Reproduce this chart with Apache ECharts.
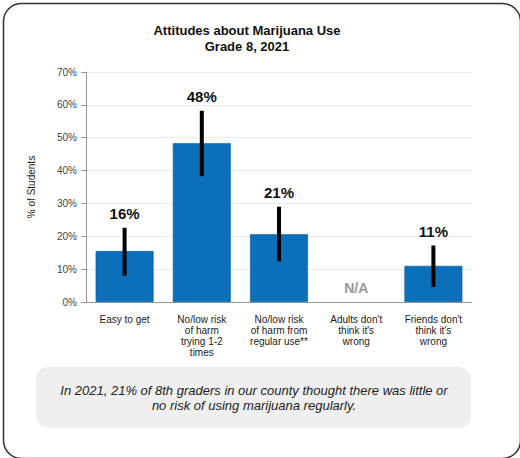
<!DOCTYPE html>
<html>
<head>
<meta charset="utf-8">
<script src="https://cdn.jsdelivr.net/npm/echarts@6/dist/echarts.min.js"></script>
<style>html,body{margin:0;padding:0;background:#fff;}#c{width:520px;height:458px;}</style>
</head>
<body>
<div id="c"></div>
<script>
const categories = ['Easy to get', 'No/low risk\nof harm\ntrying 1-2\ntimes', 'No/low risk\nof harm from\nregular use**', "Adults don't\nthink it's\nwrong", "Friends don't\nthink it's\nwrong"];
const values = [15.5, 48.3, 20.6, null, 11.0];
const valueLabels = ['16%', '48%', '21%', 'N/A', '11%'];
const errLow = [8.0, 38.3, 12.4, null, 4.6];
const errHigh = [22.6, 58.2, 29.0, null, 17.2];
const yTicks = { min: 0, max: 70, interval: 10 };
const titleText = 'Attitudes about Marijuana Use\nGrade 8, 2021';
const yAxisName = '% of Students';
const noteText = 'In 2021, 21% of 8th graders in our county thought there was little or\nno risk of using marijuana regularly.';

const FONT = 'Liberation Sans, Arial, sans-serif';
const chart = echarts.init(document.getElementById('c'), null, { renderer: 'svg' });

const errData = categories.map((c, i) => [i, errLow[i] == null ? 0 : errLow[i], errHigh[i] == null ? 0 : errHigh[i]]);

chart.setOption({
  animation: false,
  title: {
    text: titleText,
    left: 242,
    top: 17,
    textAlign: 'center',
    textStyle: { fontFamily: FONT, fontSize: 13, fontWeight: 'bold', color: '#111', lineHeight: 16 }
  },
  grid: { left: 86, right: 48, top: 72, bottom: 156 },
  xAxis: {
    type: 'category',
    data: categories,
    axisLine: { lineStyle: { color: '#999' } },
    axisTick: { show: false },
    axisLabel: { interval: 0, fontFamily: FONT, fontSize: 10, color: '#222', lineHeight: 11, margin: 12 }
  },
  yAxis: {
    type: 'value',
    min: yTicks.min, max: yTicks.max, interval: yTicks.interval,
    name: yAxisName,
    nameLocation: 'middle',
    nameGap: 50,
    nameRotate: 90,
    nameTextStyle: { fontFamily: FONT, fontSize: 10, color: '#222' },
    axisLine: { show: true, lineStyle: { color: '#999' } },
    axisTick: { show: true, length: 5, lineStyle: { color: '#999' } },
    axisLabel: { formatter: '{value}%', fontFamily: FONT, fontSize: 10, color: '#444', margin: 9 },
    splitLine: { lineStyle: { color: '#ebebeb' } }
  },
  series: [
    {
      type: 'bar',
      data: values,
      barWidth: '75%',
      itemStyle: { color: '#0b6fba', borderColor: '#095c9c', borderWidth: 0.6 }
    },
    {
      type: 'custom',
      data: errData,
      z: 5,
      renderItem: function (params, api) {
        const i = params.dataIndex;
        if (errLow[i] == null) {
          const p = api.coord([i, 0]);
          return {
            type: 'text',
            style: { text: valueLabels[i], x: p[0], y: p[1] - 14, align: 'center', verticalAlign: 'middle',
              fill: '#999', font: 'bold 14px ' + FONT }
          };
        }
        const lo = api.coord([i, errLow[i]]);
        const hi = api.coord([i, errHigh[i]]);
        return {
          type: 'group',
          children: [
            { type: 'line', shape: { x1: lo[0], y1: lo[1], x2: hi[0], y2: hi[1] }, style: { stroke: '#000', lineWidth: 4 } },
            { type: 'text', style: { text: valueLabels[i], x: hi[0], y: hi[1] - 14, align: 'center', verticalAlign: 'middle',
              fill: '#111', font: 'bold 15px ' + FONT } }
          ]
        };
      }
    }
  ],
  graphic: [
    { type: 'rect', left: 1, top: 1, shape: { width: 517, height: 455, r: 18 }, style: { fill: 'none', stroke: '#3d2f30', lineWidth: 1.5 }, silent: true },
    { type: 'rect', left: 36, top: 367, shape: { width: 435, height: 61, r: 12 }, style: { fill: '#efefef' }, silent: true },
    { type: 'text', x: 254, y: 398, style: { text: noteText, align: 'center', verticalAlign: 'middle', font: 'italic 13px ' + FONT, fill: '#222', lineHeight: 15 }, silent: true }
  ]
});
</script>
</body>
</html>
